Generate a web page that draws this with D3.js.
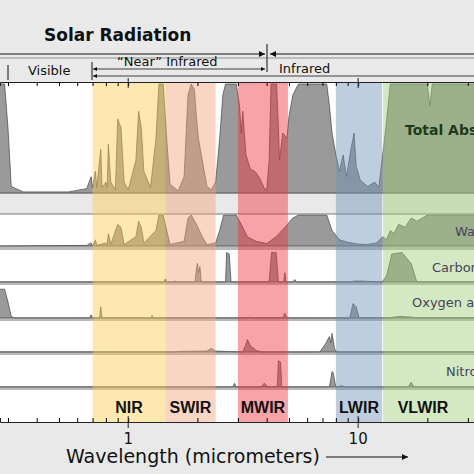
<!DOCTYPE html>
<html><head><meta charset="utf-8">
<script src="https://cdn.jsdelivr.net/npm/d3@7"></script>
<style>body{margin:0;background:#e9e9e9}svg{display:block;font-family:"DejaVu Sans",sans-serif}</style>
</head><body><svg id="c" width="474" height="474"></svg>
<script>
// wavelength (um), absorption 0..1
var total = [[0.27,1],[0.29,1],[0.30,0.6],[0.31,0.06],[0.35,0.01],[0.55,0.01],[0.66,0.04],[0.69,0.15],[0.70,0.05],[0.72,0.2],[0.73,0.05],[0.76,0.4],[0.77,0.05],[0.8,0.1],[0.81,0.05],[0.82,0.45],[0.84,0.1],[0.88,0.03],[0.9,0.68],[0.93,0.6],[0.96,0.1],[1.0,0.03],[1.08,0.3],[1.11,0.75],[1.14,0.6],[1.17,0.2],[1.25,0.05],[1.32,0.5],[1.36,1],[1.42,1],[1.47,0.5],[1.52,0.08],[1.65,0.02],[1.75,0.15],[1.82,0.9],[1.88,1],[1.94,0.95],[1.98,0.7],[2.02,0.5],[2.1,0.3],[2.2,0.06],[2.3,0.03],[2.4,0.1],[2.5,0.5],[2.58,0.9],[2.65,1],[2.95,1],[3.0,0.9],[3.05,0.8],[3.1,0.55],[3.15,0.75],[3.25,0.35],[3.4,0.22],[3.55,0.2],[3.7,0.15],[3.9,0.05],[4.0,0.02],[4.1,0.3],[4.18,1],[4.42,1],[4.5,0.6],[4.55,0.3],[4.7,0.55],[4.9,0.5],[5.0,0.7],[5.2,0.9],[5.5,1],[7.3,1],[7.5,0.8],[7.7,0.55],[8.0,0.35],[8.3,0.2],[8.6,0.35],[8.9,0.15],[9.3,0.4],[9.6,0.55],[9.8,0.25],[10.2,0.12],[11,0.06],[11.8,0.1],[12.3,0.05],[12.7,0.3],[13.2,0.6],[13.8,1],[20,1],[20.5,0.8],[21,1],[33,1]];
var water = [[0.27,0],[0.66,0.02],[0.69,0.1],[0.7,0],[0.72,0.2],[0.73,0.02],[0.8,0.1],[0.81,0.02],[0.82,0.4],[0.84,0.05],[0.9,0.7],[0.93,0.6],[0.96,0.05],[1.08,0.3],[1.11,0.8],[1.14,0.6],[1.17,0.1],[1.32,0.5],[1.36,1],[1.42,1],[1.47,0.5],[1.52,0.05],[1.75,0.15],[1.82,0.9],[1.88,1],[1.98,0.7],[2.1,0.3],[2.2,0.04],[2.4,0.1],[2.5,0.5],[2.6,1],[2.95,1],[3.1,0.7],[3.3,0.3],[3.6,0.15],[4.0,0.08],[4.4,0.3],[4.8,0.6],[5.2,0.9],[5.5,1],[7.3,1],[7.7,0.5],[8.3,0.2],[9,0.12],[10,0.06],[11,0.05],[12,0.1],[12.8,0.3],[13.3,0.2],[13.8,0.5],[14.3,0.4],[15,0.7],[16,0.6],[17,0.9],[18,0.8],[20,1],[33,1]];
var co2 = [[0.27,0],[1.43,0],[1.45,0.1],[1.47,0],[1.58,0],[1.6,0.04],[1.62,0],[1.95,0],[1.98,0.4],[2.0,0.6],[2.02,0.3],[2.05,0.5],[2.08,0],[2.65,0],[2.68,0.95],[2.75,0.9],[2.8,0],[4.1,0],[4.2,0.95],[4.4,0.95],[4.5,0],[4.75,0],[4.8,0.3],[4.85,0],[5.2,0],[5.3,0.08],[5.4,0],[9.4,0],[9.5,0.03],[10.4,0.03],[12.7,0],[13.3,0.2],[14,0.9],[15.5,0.95],[17,0.6],[18,0],[33,0]];
var oxygen = [[0.27,0.9],[0.29,0.9],[0.3,0.5],[0.31,0.05],[0.32,0],[0.68,0],[0.69,0.1],[0.7,0],[0.75,0],[0.76,0.35],[0.77,0],[1.26,0],[1.27,0.08],[1.28,0],[3.3,0],[3.4,0.02],[3.5,0],[4.7,0],[4.8,0.15],[4.9,0],[9.2,0],[9.5,0.45],[9.8,0.35],[10.1,0],[13.5,0],[15,0.05],[17,0.03],[18,0],[33,0]];
var methane = [[0.27,0],[1.6,0],[1.7,0.02],[2.2,0.03],[2.3,0.12],[2.4,0.03],[3.15,0],[3.25,0.25],[3.3,0.4],[3.4,0.2],[3.6,0.05],[3.8,0],[6.8,0],[7.2,0.25],[7.5,0.5],[7.6,0.3],[7.7,0.6],[7.9,0.1],[8.1,0],[33,0]];
var nitrous = [[0.27,0],[2.85,0],[2.9,0.12],[2.95,0],[3.8,0],[3.9,0.12],[4.0,0.05],[4.05,0],[4.45,0],[4.5,0.85],[4.6,0.8],[4.65,0],[7.5,0],[7.7,0.5],[7.8,0.45],[7.9,0.2],[8.0,0],[8.5,0.04],[8.7,0],[16.5,0],[17,0.15],[17.5,0],[33,0]];
var gasNames = ["Water Vapor","Carbon Dioxide","Oxygen and Ozone","Methane","Nitrous Oxide"];
var bandNames = ["NIR","SWIR","MWIR","LWIR","VLWIR"];
var bandStart = [0.7,1.45,3.0,8.0,12.8];
var bandEnd = [1.45,2.4,4.95,12.7,40];
var bandColors = ["#fbcf4e","#f2a47a","#f0323c","#6f93b7","#9fcd7c"];

var svg = d3.select("#c");
var x = d3.scaleLog().domain([0.277, 31.9]).range([0, 474]);
var panels = [[83,193,total],[214,246,water],[250,282,co2],[285,318,oxygen],[320,352,methane],[355,387,nitrous]];

svg.append("rect").attr("x",0).attr("y",83).attr("width",474).attr("height",339).attr("fill","#fff");
svg.append("rect").attr("x",0).attr("y",193).attr("width",474).attr("height",21).attr("fill","#e9e9e9");

panels.forEach(function(p) {
  var y = d3.scaleLinear().domain([0,1]).range([p[1], p[0] + 1]);
  var area = d3.area().x(function(d){return x(d[0]);}).y0(p[1]).y1(function(d){return y(d[1]);});
  svg.append("path").datum(p[2]).attr("d", area).attr("fill","#9a9a9a").attr("stroke","#444").attr("stroke-width",0.7);
});

// separators
[193,214,247,249,282,284,318,320,352,354,387,389].forEach(function(v){
  svg.append("line").attr("x1",0).attr("x2",474).attr("y1",v).attr("y2",v).attr("stroke","#777").attr("stroke-width",1);
});

// bands
bandNames.forEach(function(n,i){
  svg.append("rect").attr("x",x(bandStart[i])).attr("y",83)
    .attr("width",Math.min(474,x(bandEnd[i]))-x(bandStart[i])).attr("height",339)
    .attr("fill",bandColors[i]).attr("opacity",0.45);
  var cx = i==4 ? 423 : (x(bandStart[i])+x(bandEnd[i]))/2;
  svg.append("text").attr("x",cx).attr("y",413).attr("text-anchor","middle")
    .attr("font-family","Liberation Sans,Arial").attr("font-weight","bold").attr("font-size",16).attr("fill","#111").text(n);
});

// gas labels (cut off at the right edge, as in the original)
svg.append("text").attr("x",405).attr("y",135).attr("font-weight","bold").attr("font-size",14).attr("fill","#1f3a1a").text("Total Absorption");
var labY = [236,272,307,342,376];
gasNames.forEach(function(n,i){
  svg.append("text").attr("x",[455,432,412,480,446][i]).attr("y",labY[i]).attr("font-size",13).attr("fill","#445").text(n);
});

// axes
var ticks = [];
[0.1,1,10].forEach(function(d){ for (var k=1;k<10;k++){ var v=d*k; if (v>=0.28 && v<=31) ticks.push(v);} });
svg.append("rect").attr("x",0).attr("y",422).attr("width",474).attr("height",52).attr("fill","#e9e9e9");
svg.append("g").attr("transform","translate(0,422)")
  .call(d3.axisTop(x).tickValues(ticks).tickSize(4).tickFormat(""))
  .call(function(g){ g.select(".domain").attr("stroke","#222"); });
svg.append("g").attr("transform","translate(0,82)")
  .call(d3.axisTop(x).tickValues(ticks).tickSize(-4).tickFormat(""))
  .call(function(g){ g.select(".domain").attr("stroke","#222"); });
[1,10].forEach(function(v){
  svg.append("line").attr("x1",x(v)).attr("x2",x(v)).attr("y1",78).attr("y2",88).attr("stroke","#222");
  svg.append("line").attr("x1",x(v)).attr("x2",x(v)).attr("y1",416).attr("y2",428).attr("stroke","#222");
  svg.append("text").attr("x",x(v)).attr("y",444).attr("text-anchor","middle").attr("font-size",15).attr("fill","#111").text(v);
});
svg.append("text").attr("x",66).attr("y",463).attr("font-size",19).attr("fill","#111").text("Wavelength (micrometers)");

var defs = svg.append("defs");
defs.append("marker").attr("id","ah").attr("viewBox","0 0 10 10").attr("refX",10).attr("refY",5)
  .attr("markerWidth",8).attr("markerHeight",6).attr("markerUnits","userSpaceOnUse").attr("orient","auto-start-reverse")
  .append("path").attr("d","M0,0L10,5L0,10z").attr("fill","#111");
defs.append("marker").attr("id","as").attr("viewBox","0 0 10 10").attr("refX",10).attr("refY",5)
  .attr("markerWidth",5).attr("markerHeight",4).attr("markerUnits","userSpaceOnUse").attr("orient","auto-start-reverse")
  .append("path").attr("d","M0,0L10,5L0,10z").attr("fill","#111");
svg.append("line").attr("x1",326).attr("x2",408).attr("y1",457).attr("y2",457).attr("stroke","#111").attr("stroke-width",1.2).attr("marker-end","url(#ah)");

// header
svg.append("text").attr("x",44).attr("y",41).attr("font-size",17).attr("font-weight","bold").attr("fill","#111").text("Solar Radiation");
svg.append("line").attr("x1",0).attr("x2",265).attr("y1",54).attr("y2",54).attr("stroke","#111").attr("marker-end","url(#ah)");
svg.append("line").attr("x1",474).attr("x2",270).attr("y1",54).attr("y2",54).attr("stroke","#111").attr("marker-end","url(#ah)");
svg.append("line").attr("x1",267).attr("x2",267).attr("y1",44).attr("y2",72).attr("stroke","#111");
svg.append("line").attr("x1",0).attr("x2",474).attr("y1",58).attr("y2",58).attr("stroke","#555").attr("stroke-width",0.6);
svg.append("line").attr("x1",93).attr("x2",265).attr("y1",69).attr("y2",69).attr("stroke","#111").attr("stroke-width",0.8).attr("marker-start","url(#as)").attr("marker-end","url(#as)");
svg.append("line").attr("x1",93).attr("x2",474).attr("y1",76).attr("y2",76).attr("stroke","#111").attr("stroke-width",0.8).attr("marker-start","url(#as)");
svg.append("line").attr("x1",92).attr("x2",92).attr("y1",62).attr("y2",80).attr("stroke","#111");
svg.append("line").attr("x1",8).attr("x2",8).attr("y1",65).attr("y2",80).attr("stroke","#111");
svg.append("text").attr("x",28).attr("y",75).attr("font-size",13).attr("fill","#111").text("Visible");
svg.append("text").attr("x",117).attr("y",66).attr("font-size",13).attr("fill","#111").text("\u201cNear\u201d Infrared");
svg.append("text").attr("x",279).attr("y",73).attr("font-size",13).attr("fill","#111").text("Infrared");
</script></body></html>
